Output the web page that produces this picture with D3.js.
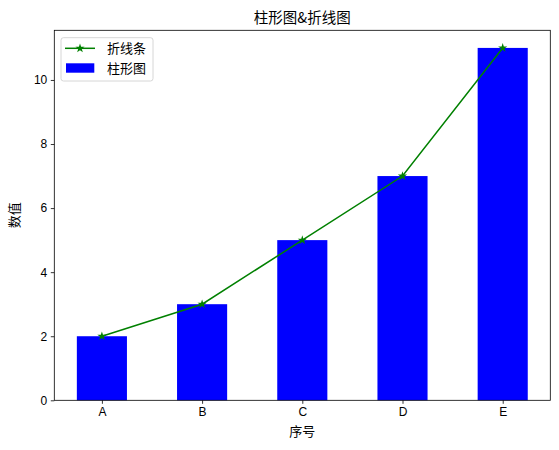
<!DOCTYPE html>
<html>
<head>
<meta charset="utf-8">
<script src="https://cdn.jsdelivr.net/npm/d3@7"></script>
<style>
  body { margin: 0; background: white; }
  text { font-family: "Liberation Sans", Arial, "Noto Sans CJK SC", sans-serif; }
  .cjk { font-family: "Noto Sans CJK SC", sans-serif; }
</style>
</head>
<body>
<svg id="chart" width="559" height="450"></svg>
<script>
  "use strict";

  var categories = ["A", "B", "C", "D", "E"];
  var barValues = [2, 3, 5, 7, 11];
  var lineValues = [2, 3, 5, 7, 11];
  var yTicks = [0, 2, 4, 6, 8, 10];

  var svg = d3.select("#chart");
  var margin = {left: 54.3, top: 30.3, right: 550.3, bottom: 400.3};

  // x : indices des categories, marges a la matplotlib
  var x = d3.scaleLinear()
    .domain([-0.475, categories.length - 1 + 0.475])
    .range([margin.left, margin.right]);
  var y = d3.scaleLinear()
    .domain([0, d3.max(barValues) * 1.05])
    .range([margin.bottom, margin.top]);

  var barWidth = x(0.5) - x(0);

  svg.append("g")
    .selectAll("rect")
    .data(barValues)
    .enter().append("rect")
    .attr("fill", "#0000ff")
    .attr("x", (d, i) => x(i - 0.25))
    .attr("width", barWidth)
    .attr("y", d => y(d))
    .attr("height", d => y(0) - y(d));

  var line = d3.line()
    .x((d, i) => x(i))
    .y(d => y(d));

  svg.append("path")
    .datum(lineValues)
    .attr("fill", "none")
    .attr("stroke", "#008000")
    .attr("stroke-width", 1.5)
    .attr("d", line);

  var star = d3.symbol().type(d3.symbolStar).size(26);
  svg.append("g")
    .selectAll("path")
    .data(lineValues)
    .enter().append("path")
    .attr("d", star)
    .attr("fill", "#008000")
    .attr("transform", (d, i) => `translate(${x(i)},${y(d)})`);

  // axes
  var xAxis = svg.append("g")
    .attr("transform", `translate(0,${margin.bottom})`)
    .call(d3.axisBottom(x)
      .tickValues(d3.range(categories.length))
      .tickFormat(i => categories[i])
      .tickSize(3.5).tickSizeOuter(0));
  var yAxis = svg.append("g")
    .attr("transform", `translate(${margin.left},0)`)
    .call(d3.axisLeft(y).tickValues(yTicks).tickSize(3.5).tickSizeOuter(0));

  [xAxis, yAxis].forEach(function(g) {
    g.select(".domain").remove();
    g.selectAll(".tick line").attr("stroke", "black").attr("stroke-width", 0.8);
    g.selectAll(".tick text")
      .attr("fill", "black")
      .style("font-size", "12px")
      .style("font-family", "'Liberation Sans', Arial, sans-serif");
  });
  xAxis.selectAll(".tick text").attr("dy", "0.71em").attr("y", 7);
  yAxis.selectAll(".tick text").attr("x", -7);

  svg.append("rect")
    .attr("x", margin.left)
    .attr("y", margin.top)
    .attr("width", margin.right - margin.left)
    .attr("height", margin.bottom - margin.top)
    .attr("fill", "none")
    .attr("stroke", "black")
    .attr("stroke-width", 0.8);

  // titres
  var cx = (margin.left + margin.right) / 2;
  svg.append("text")
    .attr("class", "cjk")
    .attr("x", cx).attr("y", 23)
    .attr("text-anchor", "middle")
    .style("font-size", "14.5px")
    .text("柱形图&折线图");
  svg.append("text")
    .attr("class", "cjk")
    .attr("x", cx).attr("y", 436)
    .attr("text-anchor", "middle")
    .style("font-size", "13px")
    .text("序号");
  svg.append("text")
    .attr("class", "cjk")
    .attr("transform", `translate(19,${(margin.top + margin.bottom) / 2}) rotate(-90)`)
    .attr("text-anchor", "middle")
    .style("font-size", "13px")
    .text("数值");

  // legende
  var legend = svg.append("g");
  legend.append("rect")
    .attr("x", 61).attr("y", 37.7)
    .attr("width", 92).attr("height", 43.3)
    .attr("rx", 2.5)
    .attr("fill", "white").attr("fill-opacity", 0.8)
    .attr("stroke", "#cccccc").attr("stroke-width", 0.8);
  legend.append("line")
    .attr("x1", 65).attr("x2", 95)
    .attr("y1", 48.3).attr("y2", 48.3)
    .attr("stroke", "#008000").attr("stroke-width", 1.5);
  legend.append("path")
    .attr("d", star)
    .attr("fill", "#008000")
    .attr("transform", "translate(80,48.3)");
  legend.append("rect")
    .attr("x", 66).attr("y", 63.3)
    .attr("width", 28.3).attr("height", 9.4)
    .attr("fill", "#0000ff");
  legend.append("text")
    .attr("class", "cjk")
    .attr("x", 107).attr("y", 53)
    .style("font-size", "13px")
    .text("折线条");
  legend.append("text")
    .attr("class", "cjk")
    .attr("x", 107).attr("y", 72.5)
    .style("font-size", "13px")
    .text("柱形图");
</script>
</body>
</html>
